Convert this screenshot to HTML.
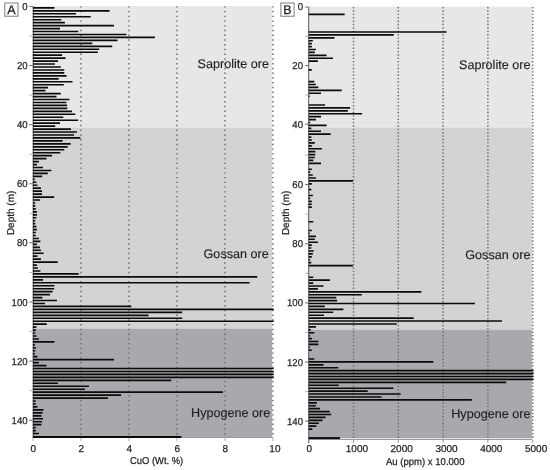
<!DOCTYPE html>
<html lang="en"><head><meta charset="utf-8"><title>Depth profiles: CuO and Au</title>
<style>html,body{margin:0;padding:0;background:#fff}svg{display:block}text{font-family:"Liberation Sans",sans-serif;fill:#231f20;text-rendering:geometricPrecision}.t{font-size:10px;stroke:#231f20;stroke-width:0.25px}.o{font-size:12.6px;stroke:#231f20;stroke-width:0.15px}.l{font-size:12.5px;stroke:#231f20;stroke-width:0.3px}</style></head><body>
<svg width="550" height="470" viewBox="0 0 550 470">
<rect width="550" height="470" fill="#fff"/>
<rect x="32.9" y="6.2" width="239.3" height="121.6" fill="#e6e7e8"/>
<rect x="32.9" y="127.8" width="239.3" height="200.9" fill="#d1d3d4"/>
<rect x="32.9" y="328.7" width="239.3" height="108.2" fill="#a7a9ac"/>
<line x1="32.9" y1="437.3" x2="272.8" y2="437.3" stroke="#808285" stroke-width="1"/>
<line x1="80.9" y1="6.15" x2="80.9" y2="436.9" stroke="#6d6e71" stroke-width="1.5" stroke-dasharray="1.4 3.344"/>
<line x1="128.9" y1="6.15" x2="128.9" y2="436.9" stroke="#6d6e71" stroke-width="1.5" stroke-dasharray="1.4 3.344"/>
<line x1="176.9" y1="6.15" x2="176.9" y2="436.9" stroke="#6d6e71" stroke-width="1.5" stroke-dasharray="1.4 3.344"/>
<line x1="224.9" y1="6.15" x2="224.9" y2="436.9" stroke="#6d6e71" stroke-width="1.5" stroke-dasharray="1.4 3.344"/>
<line x1="272.9" y1="6.15" x2="272.9" y2="436.9" stroke="#6d6e71" stroke-width="1.5" stroke-dasharray="1.4 3.344"/>
<line x1="33.2" y1="6.4" x2="33.2" y2="437.8" stroke="#58595b" stroke-width="1"/>
<line x1="29.3" y1="6.40" x2="32.9" y2="6.40" stroke="#58595b" stroke-width="0.9"/>
<text class="t" transform="translate(27.6 9.90) scale(0.96 1)" text-anchor="end">0</text>
<line x1="29.3" y1="35.96" x2="32.3" y2="35.96" stroke="#a7a9ac" stroke-width="0.9"/>
<line x1="29.3" y1="65.52" x2="32.9" y2="65.52" stroke="#58595b" stroke-width="0.9"/>
<text class="t" transform="translate(27.6 69.02) scale(0.96 1)" text-anchor="end">20</text>
<line x1="29.3" y1="95.08" x2="32.3" y2="95.08" stroke="#a7a9ac" stroke-width="0.9"/>
<line x1="29.3" y1="124.64" x2="32.9" y2="124.64" stroke="#58595b" stroke-width="0.9"/>
<text class="t" transform="translate(27.6 128.14) scale(0.96 1)" text-anchor="end">40</text>
<line x1="29.3" y1="154.20" x2="32.3" y2="154.20" stroke="#a7a9ac" stroke-width="0.9"/>
<line x1="29.3" y1="183.76" x2="32.9" y2="183.76" stroke="#58595b" stroke-width="0.9"/>
<text class="t" transform="translate(27.6 187.26) scale(0.96 1)" text-anchor="end">60</text>
<line x1="29.3" y1="213.32" x2="32.3" y2="213.32" stroke="#a7a9ac" stroke-width="0.9"/>
<line x1="29.3" y1="242.88" x2="32.9" y2="242.88" stroke="#58595b" stroke-width="0.9"/>
<text class="t" transform="translate(27.6 246.38) scale(0.96 1)" text-anchor="end">80</text>
<line x1="29.3" y1="272.44" x2="32.3" y2="272.44" stroke="#a7a9ac" stroke-width="0.9"/>
<line x1="29.3" y1="302.00" x2="32.9" y2="302.00" stroke="#58595b" stroke-width="0.9"/>
<text class="t" transform="translate(27.6 305.50) scale(0.96 1)" text-anchor="end">100</text>
<line x1="29.3" y1="331.56" x2="32.3" y2="331.56" stroke="#a7a9ac" stroke-width="0.9"/>
<line x1="29.3" y1="361.12" x2="32.9" y2="361.12" stroke="#58595b" stroke-width="0.9"/>
<text class="t" transform="translate(27.6 364.62) scale(0.96 1)" text-anchor="end">120</text>
<line x1="29.3" y1="390.68" x2="32.3" y2="390.68" stroke="#a7a9ac" stroke-width="0.9"/>
<line x1="29.3" y1="420.24" x2="32.9" y2="420.24" stroke="#58595b" stroke-width="0.9"/>
<text class="t" transform="translate(27.6 423.74) scale(0.96 1)" text-anchor="end">140</text>
<line x1="32.9" y1="437.8" x2="32.9" y2="441.1" stroke="#a7a9ac" stroke-width="0.9"/>
<text class="t" x="33.3" y="451.6" text-anchor="middle">0</text>
<line x1="80.9" y1="437.8" x2="80.9" y2="441.1" stroke="#a7a9ac" stroke-width="0.9"/>
<text class="t" x="81.3" y="451.6" text-anchor="middle">2</text>
<line x1="128.9" y1="437.8" x2="128.9" y2="441.1" stroke="#a7a9ac" stroke-width="0.9"/>
<text class="t" x="129.3" y="451.6" text-anchor="middle">4</text>
<line x1="176.9" y1="437.8" x2="176.9" y2="441.1" stroke="#a7a9ac" stroke-width="0.9"/>
<text class="t" x="177.3" y="451.6" text-anchor="middle">6</text>
<line x1="224.9" y1="437.8" x2="224.9" y2="441.1" stroke="#a7a9ac" stroke-width="0.9"/>
<text class="t" x="225.3" y="451.6" text-anchor="middle">8</text>
<line x1="272.9" y1="437.8" x2="272.9" y2="441.1" stroke="#a7a9ac" stroke-width="0.9"/>
<text class="t" x="274.9" y="451.6" text-anchor="middle">10</text>
<path d="M32.9 437.00h148.4" stroke="#0b0b0b" stroke-width="1.95" fill="none"/>
<path d="M32.9 7.88h21.5M32.9 10.83h76.7M32.9 13.79h43.1M32.9 16.75h57.9M32.9 19.70h28.4M32.9 22.66h32.0M32.9 25.61h81.1M32.9 28.57h27.1M32.9 31.53h45.4M32.9 34.48h93.5M32.9 37.44h122.0M32.9 40.39h84.6M32.9 43.35h59.4M32.9 46.31h79.3M32.9 49.26h66.3M32.9 52.22h65.0M32.9 55.17h29.2M32.9 58.13h32.7M32.9 61.09h25.1M32.9 64.04h22.0M32.9 67.00h27.9M32.9 69.95h31.4M32.9 72.91h31.4M32.9 75.87h33.7M32.9 78.82h25.8M32.9 81.78h39.6M32.9 84.73h30.9M32.9 87.69h15.2M32.9 90.65h12.6M32.9 93.60h27.9M32.9 96.56h23.6M32.9 99.51h36.5M32.9 102.47h33.5M32.9 105.43h34.2M32.9 108.38h34.5M32.9 111.34h39.1M32.9 114.29h42.4M32.9 117.25h30.4M32.9 120.21h45.2M32.9 123.16h27.1M32.9 126.12h22.3M32.9 129.07h38.1M32.9 132.03h43.9M32.9 134.99h41.1M32.9 137.94h47.5M32.9 140.90h29.7M32.9 143.85h37.8M32.9 146.81h34.8M32.9 149.77h31.4M32.9 152.72h27.4M32.9 155.68h19.2M32.9 158.63h13.6M32.9 161.59h6.0M32.9 164.55h4.0M32.9 167.50h10.1M32.9 170.46h18.5M32.9 173.41h14.9M32.9 176.37h9.3M32.9 179.33h1.9M32.9 182.28h3.5M32.9 185.24h4.5M32.9 188.19h8.0M32.9 191.15h9.1M32.9 194.11h9.1M32.9 197.06h21.3M32.9 200.02h7.3M32.9 202.97h2.4M32.9 205.93h2.4M32.9 208.89h2.9M32.9 211.84h4.0M32.9 214.80h4.0M32.9 217.75h3.5M32.9 220.71h2.4M32.9 223.67h2.4M32.9 226.62h3.5M32.9 229.58h4.0M32.9 232.53h2.9M32.9 235.49h2.9M32.9 238.45h6.0M32.9 241.40h7.5M32.9 244.36h4.0M32.9 247.31h7.0M32.9 250.27h8.0M32.9 253.23h10.6M32.9 256.18h4.5M32.9 259.14h8.0M32.9 262.09h24.8M32.9 265.05h4.0M32.9 268.01h5.0M32.9 270.96h7.5M32.9 273.92h45.7M32.9 276.87h224.4M32.9 279.83h10.1M32.9 282.79h216.7M32.9 285.74h21.5M32.9 288.70h21.3M32.9 291.65h19.7M32.9 294.61h17.2M32.9 297.57h9.6M32.9 300.52h24.1M32.9 303.48h12.1M32.9 306.43h98.4M32.9 309.39h240.8M32.9 312.35h149.3M32.9 315.30h115.7M32.9 318.26h149.3M32.9 321.21h240.8M32.9 324.17h13.9M32.9 327.13h3.5M32.9 330.08h2.9M32.9 333.04h2.4M32.9 335.99h3.5M32.9 338.95h6.0M32.9 341.91h21.5M32.9 344.86h1.9M32.9 347.82h2.9M32.9 350.77h2.4M32.9 353.73h1.9M32.9 356.69h4.5M32.9 359.64h81.1M32.9 362.60h6.0M32.9 365.55h13.6M32.9 368.51h240.8M32.9 371.47h240.8M32.9 374.42h240.8M32.9 377.38h240.8M32.9 380.33h138.3M32.9 383.29h25.1M32.9 386.25h56.1M32.9 389.20h52.1M32.9 392.16h190.0M32.9 395.11h88.2M32.9 398.07h75.0M32.9 401.03h2.9M32.9 403.98h2.9M32.9 406.94h4.5M32.9 409.89h10.6M32.9 412.85h9.6M32.9 415.81h8.5M32.9 418.76h10.1M32.9 421.72h9.1M32.9 424.67h8.5M32.9 427.63h2.9M32.9 430.59h2.9M32.9 433.54h6.0" stroke="#0b0b0b" stroke-width="1.65" fill="none"/>
<text class="o" x="269.0" y="67.9" text-anchor="end">Saprolite ore</text>
<text class="o" x="268.7" y="257.9" text-anchor="end">Gossan ore</text>
<text class="o" x="270.2" y="417.2" text-anchor="end">Hypogene ore</text>
<rect x="4.8" y="3.0" width="13.2" height="13.2" fill="#fff" stroke="#6d6e71" stroke-width="0.9"/>
<text class="l" x="11.4" y="14.2" text-anchor="middle">A</text>
<text class="t" transform="translate(156.6 464.3) scale(0.94 1)" text-anchor="middle">CuO (Wt. %)</text>
<text class="t" transform="translate(14.2 212.9) rotate(-90)" text-anchor="middle">Depth (m)</text>
<rect x="308.7" y="6.5" width="223.2" height="121.0" fill="#e6e7e8"/>
<rect x="308.7" y="127.5" width="223.2" height="202.2" fill="#d1d3d4"/>
<rect x="308.7" y="329.7" width="223.2" height="108.4" fill="#a7a9ac"/>
<rect x="308.7" y="438.1" width="223.2" height="0.9" fill="#dcddde"/>
<line x1="308.7" y1="439.5" x2="532.5" y2="439.5" stroke="#9a9c9e" stroke-width="1"/>
<line x1="353.5" y1="6.96" x2="353.5" y2="438.1" stroke="#6d6e71" stroke-width="1.5" stroke-dasharray="1.4 1.981"/>
<line x1="398.3" y1="6.96" x2="398.3" y2="438.1" stroke="#6d6e71" stroke-width="1.5" stroke-dasharray="1.4 1.981"/>
<line x1="443.1" y1="6.96" x2="443.1" y2="438.1" stroke="#6d6e71" stroke-width="1.5" stroke-dasharray="1.4 1.981"/>
<line x1="487.9" y1="6.96" x2="487.9" y2="438.1" stroke="#6d6e71" stroke-width="1.5" stroke-dasharray="1.4 1.981"/>
<line x1="532.7" y1="6.96" x2="532.7" y2="438.1" stroke="#6d6e71" stroke-width="1.5" stroke-dasharray="1.4 1.981"/>
<line x1="308.7" y1="7.1" x2="308.7" y2="443.3" stroke="#58595b" stroke-width="1"/>
<line x1="305.1" y1="7.00" x2="308.7" y2="7.00" stroke="#58595b" stroke-width="0.9"/>
<text class="t" transform="translate(303.0 9.60) scale(0.96 1)" text-anchor="end">0</text>
<line x1="305.1" y1="36.30" x2="308.1" y2="36.30" stroke="#a7a9ac" stroke-width="0.9"/>
<line x1="305.1" y1="65.60" x2="308.7" y2="65.60" stroke="#58595b" stroke-width="0.9"/>
<text class="t" transform="translate(303.0 69.10) scale(0.96 1)" text-anchor="end">20</text>
<line x1="305.1" y1="94.90" x2="308.1" y2="94.90" stroke="#a7a9ac" stroke-width="0.9"/>
<line x1="305.1" y1="124.20" x2="308.7" y2="124.20" stroke="#58595b" stroke-width="0.9"/>
<text class="t" transform="translate(303.0 127.70) scale(0.96 1)" text-anchor="end">40</text>
<line x1="305.1" y1="155.00" x2="308.1" y2="155.00" stroke="#a7a9ac" stroke-width="0.9"/>
<line x1="305.1" y1="184.58" x2="308.7" y2="184.58" stroke="#58595b" stroke-width="0.9"/>
<text class="t" transform="translate(303.0 188.08) scale(0.96 1)" text-anchor="end">60</text>
<line x1="305.1" y1="214.16" x2="308.1" y2="214.16" stroke="#a7a9ac" stroke-width="0.9"/>
<line x1="305.1" y1="243.74" x2="308.7" y2="243.74" stroke="#58595b" stroke-width="0.9"/>
<text class="t" transform="translate(303.0 247.24) scale(0.96 1)" text-anchor="end">80</text>
<line x1="305.1" y1="273.32" x2="308.1" y2="273.32" stroke="#a7a9ac" stroke-width="0.9"/>
<line x1="305.1" y1="302.90" x2="308.7" y2="302.90" stroke="#58595b" stroke-width="0.9"/>
<text class="t" transform="translate(303.0 306.40) scale(0.96 1)" text-anchor="end">100</text>
<line x1="305.1" y1="332.48" x2="308.1" y2="332.48" stroke="#a7a9ac" stroke-width="0.9"/>
<line x1="305.1" y1="362.06" x2="308.7" y2="362.06" stroke="#58595b" stroke-width="0.9"/>
<text class="t" transform="translate(303.0 365.56) scale(0.96 1)" text-anchor="end">120</text>
<line x1="305.1" y1="391.64" x2="308.1" y2="391.64" stroke="#a7a9ac" stroke-width="0.9"/>
<line x1="305.1" y1="421.22" x2="308.7" y2="421.22" stroke="#58595b" stroke-width="0.9"/>
<text class="t" transform="translate(303.0 424.72) scale(0.96 1)" text-anchor="end">140</text>
<line x1="308.7" y1="440.0" x2="308.7" y2="442.7" stroke="#808285" stroke-width="0.9"/>
<text class="t" x="309.3" y="451.9" text-anchor="middle">0</text>
<line x1="353.5" y1="440.0" x2="353.5" y2="442.7" stroke="#808285" stroke-width="0.9"/>
<text class="t" x="356.9" y="451.9" text-anchor="middle">1000</text>
<line x1="398.3" y1="440.0" x2="398.3" y2="442.7" stroke="#808285" stroke-width="0.9"/>
<text class="t" x="401.7" y="451.9" text-anchor="middle">2000</text>
<line x1="443.1" y1="440.0" x2="443.1" y2="442.7" stroke="#808285" stroke-width="0.9"/>
<text class="t" x="446.5" y="451.9" text-anchor="middle">3000</text>
<line x1="487.9" y1="440.0" x2="487.9" y2="442.7" stroke="#808285" stroke-width="0.9"/>
<text class="t" x="491.3" y="451.9" text-anchor="middle">4000</text>
<line x1="532.7" y1="440.0" x2="532.7" y2="442.7" stroke="#808285" stroke-width="0.9"/>
<text class="t" x="536.1" y="451.9" text-anchor="middle">5000</text>
<path d="M308.7 438.10h31.2" stroke="#0b0b0b" stroke-width="1.95" fill="none"/>
<path d="M308.7 14.44h36.0M308.7 31.96h137.8M308.7 34.88h85.1M308.7 37.80h25.8M308.7 40.72h4.1M308.7 43.64h3.1M308.7 46.56h3.1M308.7 49.48h7.2M308.7 52.40h6.1M308.7 55.32h17.9M308.7 58.24h24.3M308.7 61.16h9.2M308.7 69.92h3.1M308.7 81.60h5.6M308.7 84.52h7.2M308.7 87.44h9.7M308.7 90.36h33.0M308.7 93.28h12.3M308.7 96.20h1.0M308.7 104.96h16.4M308.7 107.88h41.4M308.7 110.80h39.1M308.7 113.72h53.4M308.7 116.64h12.3M308.7 119.56h7.2M308.7 122.48h1.5M308.7 125.40h17.9M308.7 128.32h2.6M308.7 131.24h12.3M308.7 134.16h22.0M308.7 137.08h2.6M308.7 140.00h3.1M308.7 142.92h6.1M308.7 145.84h3.1M308.7 148.76h13.3M308.7 151.68h6.6M308.7 154.60h6.6M308.7 157.52h6.1M308.7 160.44h4.6M308.7 163.36h12.3M308.7 169.20h3.1M308.7 172.12h1.5M308.7 175.04h4.1M308.7 177.96h7.2M308.7 180.88h44.2M308.7 183.80h3.1M308.7 186.72h0.5M308.7 189.64h2.6M308.7 192.56h0.5M308.7 195.48h4.1M308.7 198.40h1.5M308.7 201.32h3.1M308.7 204.24h3.1M308.7 207.16h3.1M308.7 221.76h4.6M308.7 230.52h3.1M308.7 233.44h1.0M308.7 236.36h7.2M308.7 239.28h6.1M308.7 242.20h9.2M308.7 245.12h3.1M308.7 248.04h2.6M308.7 250.96h5.1M308.7 253.88h4.1M308.7 256.80h3.1M308.7 259.72h1.5M308.7 262.64h2.6M308.7 265.56h44.2M308.7 277.24h4.6M308.7 280.16h21.2M308.7 283.08h4.6M308.7 286.00h14.8M308.7 288.92h9.2M308.7 291.84h112.7M308.7 294.76h53.1M308.7 297.68h27.6M308.7 300.60h28.4M308.7 303.52h166.2M308.7 306.44h16.1M308.7 309.36h34.7M308.7 312.28h24.5M308.7 315.20h15.3M308.7 318.12h105.0M308.7 321.04h193.3M308.7 323.96h88.1M308.7 326.88h7.2M308.7 329.80h2.0M308.7 332.72h5.6M308.7 335.64h1.0M308.7 338.56h3.1M308.7 341.48h9.7M308.7 344.40h9.7M308.7 347.32h1.0M308.7 350.24h3.1M308.7 359.00h5.6M308.7 361.92h124.7M308.7 364.84h14.8M308.7 367.76h29.6M308.7 370.68h224.8M308.7 373.60h224.8M308.7 376.52h224.8M308.7 379.44h224.8M308.7 382.36h197.6M308.7 385.28h30.1M308.7 388.20h84.8M308.7 391.12h59.0M308.7 394.04h92.0M308.7 396.96h72.8M308.7 399.88h163.1M308.7 402.80h8.2M308.7 405.72h7.2M308.7 408.64h11.2M308.7 411.56h21.0M308.7 414.48h22.5M308.7 417.40h16.9M308.7 420.32h13.8M308.7 423.24h10.2M308.7 426.16h7.7M308.7 429.08h3.6" stroke="#0b0b0b" stroke-width="1.65" fill="none"/>
<text class="o" x="530.4" y="69.0" text-anchor="end">Saprolite ore</text>
<text class="o" x="530.4" y="258.5" text-anchor="end">Gossan ore</text>
<text class="o" x="530.4" y="417.7" text-anchor="end">Hypogene ore</text>
<rect x="280.9" y="3.0" width="13.2" height="13.2" fill="#fff" stroke="#6d6e71" stroke-width="0.9"/>
<text class="l" x="287.5" y="14.2" text-anchor="middle">B</text>
<text class="t" transform="translate(425.2 464.6) scale(0.955 1)" text-anchor="middle">Au (ppm) x 10.000</text>
<text class="t" transform="translate(289.3 212.9) rotate(-90)" text-anchor="middle">Depth (m)</text>
</svg></body></html>
